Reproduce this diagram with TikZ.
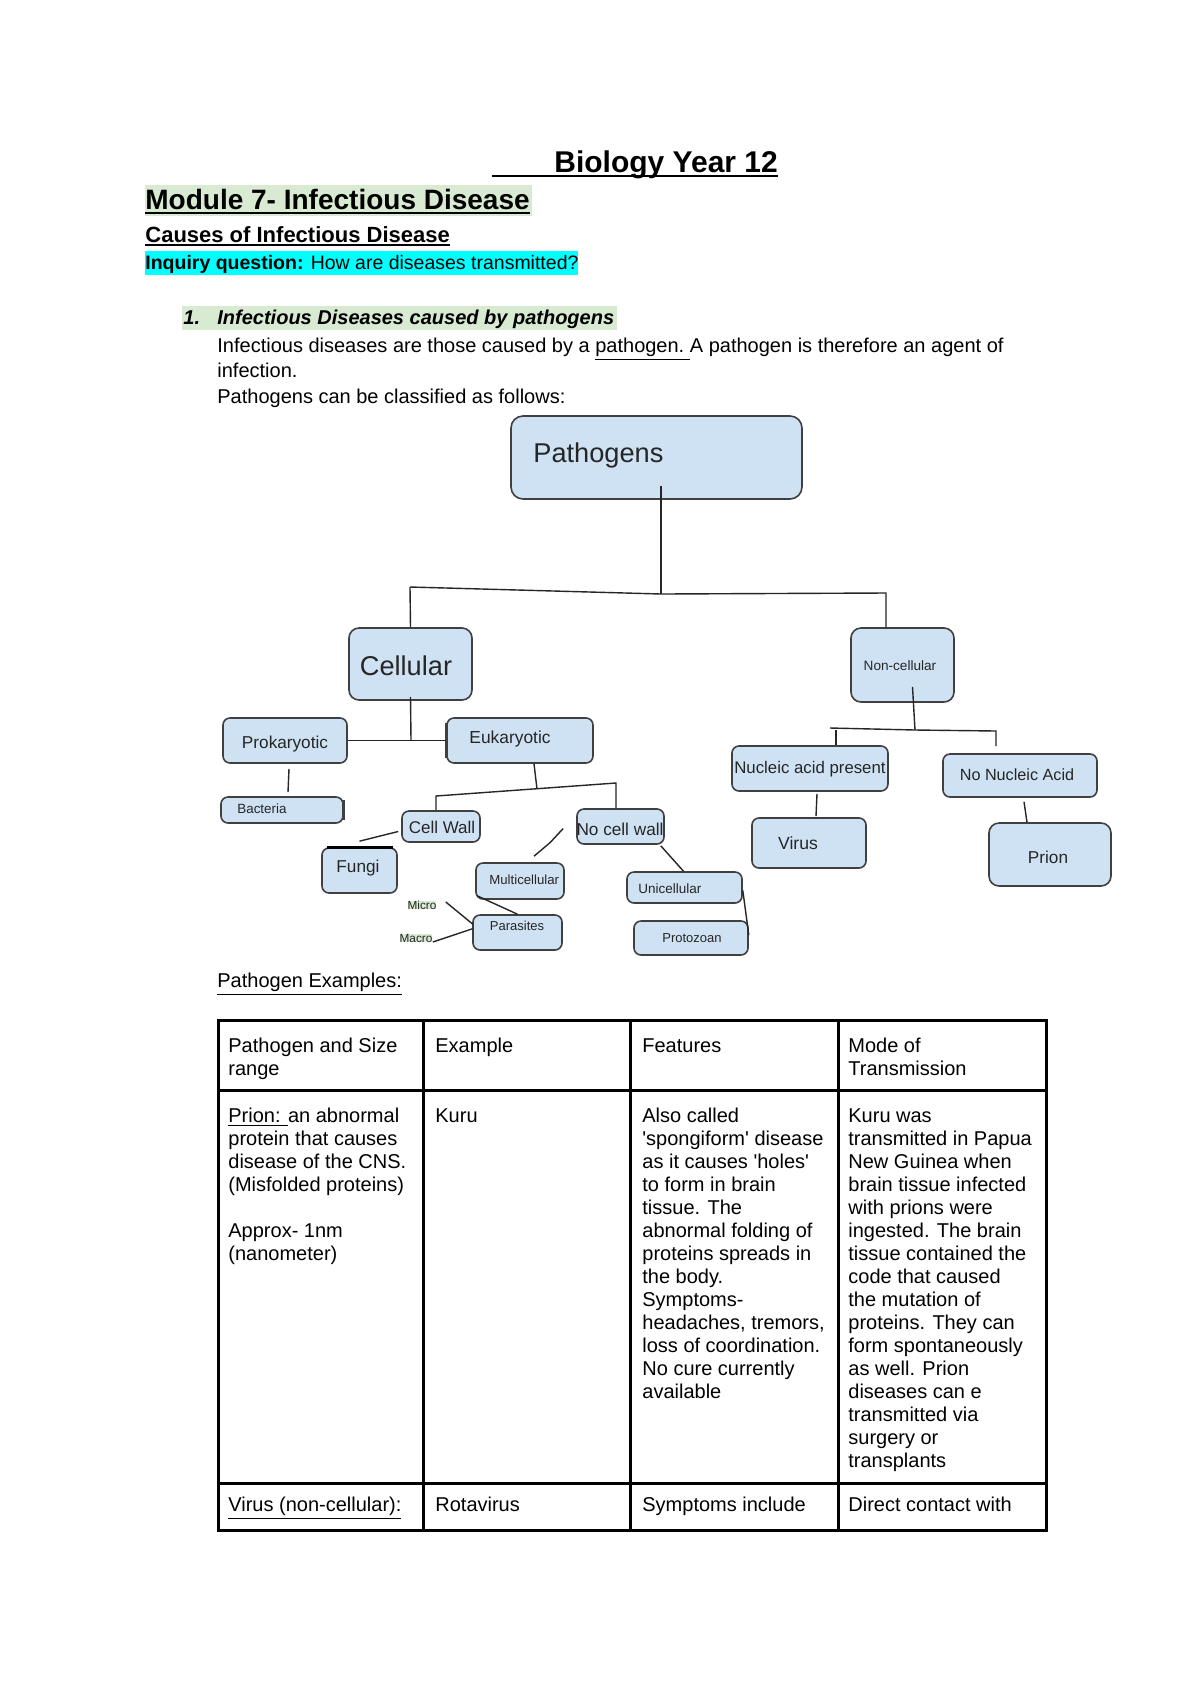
\documentclass[tikz,border=0pt]{standalone}
\usepackage{fontspec}
\setmainfont{Liberation Sans}
\usepackage{tikz}
\usetikzlibrary{calc,fit}

\definecolor{boxfill}{HTML}{CFE2F3}
\definecolor{boxline}{HTML}{404040}
\definecolor{hlgreen}{HTML}{D9EAD3}
\definecolor{hlcyan}{HTML}{00FFFF}

\newcommand{\setfs}[1]{\fontsize{#1}{#1}\selectfont}

\tikzset{
  box/.style={draw=boxline, fill=boxfill, line width=0.8pt, rounded corners=3.5pt, inner sep=0pt},
  lbl/.style={inner sep=0pt, text=black!85},
  link/.style={line width=0.7pt, black!85},
  txt/.style={inner sep=0pt, anchor=base west},
  cell/.style={inner sep=0pt, anchor=base west, align=left, font=\fontsize{10}{11.5}\selectfont},
  tab/.style={line width=1.5pt},
}

\begin{document}
\begin{tikzpicture}[x=0.5pt, y=-0.5pt]
        \useasboundingbox (0,0) rectangle (1200,1694);
        \fill[white] (0,0) rectangle (1200,1694);

        \node[txt, font=\setfs{15}\bfseries] (title) at (554,172) {Biology Year 12};
        \draw[line width=1.1pt] (492,176) -- ([yshift=-2pt]title.base east);

        \fill[hlgreen] (145,185) rectangle (532,216);
        \node[txt, font=\setfs{14}\bfseries] (module) at (145,209) {Module 7- Infectious Disease};
        \draw[line width=1.1pt] ([yshift=-2pt]module.base west) -- ([yshift=-2pt]module.base east);

        \node[txt, font=\setfs{11}\bfseries] (causes) at (145,242) {Causes of Infectious Disease};
        \draw[line width=0.9pt] ([yshift=-1.5pt]causes.base west) -- ([yshift=-1.5pt]causes.base east);

        \fill[hlcyan] (145,251) rectangle (578,275);
        \node[txt, font=\setfs{9.75}] (inquiry) at (145,269) {\textbf{Inquiry question:} How are diseases transmitted?};

        \fill[hlgreen] (182,306) rectangle (617,330);
        \node[txt, font=\setfs{10}\bfseries\itshape] (num) at (183,324) {1.};
        \node[txt, font=\setfs{10}\bfseries\itshape] (heading) at (217,324) {Infectious Diseases caused by pathogens};

        \node[txt, font=\setfs{10}] (body1) at (217,352) {Infectious diseases are those caused by a \underline{pathogen.\ }A pathogen is therefore an agent of};
        \node[txt, font=\setfs{10}] (body2) at (217,377) {infection.};
        \node[txt, font=\setfs{10}] (body3) at (217,403) {Pathogens can be classified as follows:};

        \node[box, rounded corners=6pt, fit={(511,416) (802,499)}] (pathogens) {};
        \node[lbl, anchor=west, font=\setfs{13.6}] (pathogensT) at (533,455) {Pathogens};

        \node[box, rounded corners=5pt, fit={(349,628) (472,700)}] (cellular) {};
        \node[lbl, font=\setfs{13.6}] (cellularT) at (406,666) {Cellular};
        \node[box, rounded corners=5pt, fit={(851,628) (954,702)}] (noncell) {};
        \node[lbl, font=\setfs{6.8}] (noncellT) at (900,666) {Non-cellular};

        \node[box, fit={(223,718) (347,763)}] (prok) {};
        \node[lbl, font=\setfs{8.6}] (prokT) at (285,744) {Prokaryotic};
        \node[box, fit={(447,718) (593,763)}] (euk) {};
        \node[lbl, anchor=west, font=\setfs{8.7}] (eukT) at (469,739) {Eukaryotic};
        \node[box, fit={(221,797) (343,823)}] (bact) {};
        \node[lbl, anchor=west, font=\setfs{6.7}] (bactT) at (237,809) {Bacteria};

        \node[box, fit={(402,811) (480,842)}] (cellwall) {};
        \node[lbl, font=\setfs{8.5}] (cellwallT) at (442,827) {Cell Wall};
        \node[box, fit={(577,809) (664,844)}] (nowall) {};
        \node[lbl, font=\setfs{8.6}] (nowallT) at (620,829) {No cell wall};
        \node[box, fit={(322,848) (397,893)}] (fungi) {};
        \node[lbl, font=\setfs{8.6}] (fungiT) at (358,868) {Fungi};
        \node[box, fit={(476,863) (564,899)}] (multi) {};
        \node[lbl, anchor=west, font=\setfs{6.6}] (multiT) at (489,880) {Multicellular};
        \node[box, fit={(473,915) (562,950)}] (para) {};
        \node[lbl, font=\setfs{6.5}] (paraT) at (517,926) {Parasites};
        \node[lbl, fill=hlgreen, font=\setfs{5.9}] (micro) at (422,905) {Micro};
        \node[lbl, fill=hlgreen, font=\setfs{5.9}] (macro) at (416,938) {Macro};
        \node[box, fit={(627,872) (742,903)}] (uni) {};
        \node[lbl, anchor=west, font=\setfs{6.75}] (uniT) at (638,889) {Unicellular};
        \node[box, fit={(634,921) (748,955)}] (proto) {};
        \node[lbl, font=\setfs{6.5}] (protoT) at (692,938) {Protozoan};

        \node[box, fit={(732,746) (888,791)}] (nap) {};
        \node[lbl, font=\setfs{8.4}] (napT) at (810,769) {Nucleic acid present};
        \node[box, fit={(943,754) (1097,797)}] (nna) {};
        \node[lbl, font=\setfs{8.1}] (nnaT) at (1017,775) {No Nucleic Acid};
        \node[box, fit={(752,818) (866,868)}] (virus) {};
        \node[lbl, font=\setfs{8.8}] (virusT) at (798,843) {Virus};
        \node[box, rounded corners=5pt, fit={(989,823) (1111,886)}] (prion) {};
        \node[lbl, font=\setfs{8.6}] (prionT) at (1048,857) {Prion};

        \draw[line width=1.6pt] ($(fungi.north west)+(6,0)$) -- ($(fungi.north east)+(-5,0)$);
        \draw[line width=1.4pt, boxline] ($(bact.north east)+(0,4)$) -- ($(bact.south east)+(0,-4)$);
        \draw[line width=1.4pt, boxline] ($(euk.north west)+(0,6)$) -- ($(euk.south west)+(0,-6)$);

        \coordinate (jtop) at (661,594);
        \coordinate (jleft) at (410,587);
        \coordinate (jright) at (886,593);
        \draw[link] ($(jtop |- pathogens.south)+(0,-14)$) -- (jtop);
        \draw[link] (jleft) -- (jtop) -- (jright) -- (jright |- noncell.north);
        \draw[link] (jleft) -- (cellular.north);

        \coordinate (jcell) at (411,740);
        \draw[link] ($(cellular.south)+(0,-4)$) -- (jcell);
        \draw[link] (prok.east) -- (euk.west);
        \draw[link] ($(prok.south)+(4,5)$) -- ($(bact.north)+(6,-4)$);

        \coordinate (jeuk) at (537,789);
        \coordinate (jwall) at (436,796);
        \coordinate (jnowall) at (616,783);
        \draw[link] ($(euk.south)+(14,0)$) -- (jeuk);
        \draw[link] (cellwall.north -| jwall) -- (jwall) -- (jnowall) -- (jnowall |- nowall.north);
        \draw[link] ($(cellwall.west)+(-3,5)$) -- ($(fungi.north)+(0,-6)$);
        \draw[link] ($(nowall.west)+(-13,2)$) -- ($(nowall.west)+(-26,16)$) -- ($(multi.north)+(14,-6)$);
        \draw[link] ($(multi.south west)+(2,-4)$) -- (para.north);
        \draw[link] ($(micro.east)+(9,-3)$) -- ($(para.west)+(1,-8)$);
        \draw[link] ($(macro.east)+(0,4)$) -- ($(para.west)+(1,-4)$);
        \draw[link] ($(nowall.south east)+(-4,1)$) -- ($(uni.north)+(-1,0)$);
        \draw[link] ($(uni.east)+(0,3)$) -- ($(proto.east)+(0,-3)$);

        \coordinate (jnon) at (915,730);
        \coordinate (jnap) at (830,728);
        \coordinate (jnna) at (996,731);
        \draw[link] ($(noncell.south)+(10,-16)$) -- (jnon);
        \draw[link] (jnap) -- (jnon) -- (jnna) -- ($(nna.north)+(-24,-7)$);
        \draw[link] ($(jnap)+(6,2)$) -- ($(nap.north)+(26,0)$);
        \draw[link] ($(nap.south)+(7,2)$) -- ($(virus.north)+(7,-1)$);
        \draw[link] ($(nna.south)+(4,4)$) -- ($(prion.north)+(-23,0)$);

        \node[txt, font=\setfs{10}] (examples) at (217,987) {\underline{Pathogen Examples:}};

        \draw[tab] (218,1020) rectangle (1046,1530);
        \draw[tab] (218,1090) -- (1046,1090);
        \draw[tab] (218,1483) -- (1046,1483);
        \foreach \x in {423,630,838} \draw[tab] (\x,1020) -- (\x,1530);

        \node[cell] (h1) at (228,1075) {Pathogen and Size\\range};
        \node[cell] (h2) at (435,1052) {Example};
        \node[cell] (h3) at (642,1052) {Features};
        \node[cell] (h4) at (848,1075) {Mode of\\Transmission};

        \node[cell] (r1a) at (228,1260) {\underline{Prion: }an abnormal\\protein that causes\\disease of the CNS.\\(Misfolded proteins)\\[11.5pt]Approx- 1nm\\(nanometer)};
        \node[cell] (r1b) at (435,1122) {Kuru};
        \node[cell] (r1c) at (642,1398) {Also called\\\textquotesingle spongiform\textquotesingle{} disease\\as it causes \textquotesingle holes\textquotesingle\\to form in brain\\tissue. The\\abnormal folding of\\proteins spreads in\\the body.\\Symptoms-\\headaches, tremors,\\loss of coordination.\\No cure currently\\available};
        \node[cell] (r1d) at (848,1467) {Kuru was\\transmitted in Papua\\New Guinea when\\brain tissue infected\\with prions were\\ingested. The brain\\tissue contained the\\code that caused\\the mutation of\\proteins. They can\\form spontaneously\\as well. Prion\\diseases can e\\transmitted via\\surgery or\\transplants};

        \node[cell] (r2a) at (228,1511) {\underline{Virus (non-cellular):}};
        \node[cell] (r2b) at (435,1511) {Rotavirus};
        \node[cell] (r2c) at (642,1511) {Symptoms include};
        \node[cell] (r2d) at (848,1511) {Direct contact with};
    \end{tikzpicture}
\end{document}
